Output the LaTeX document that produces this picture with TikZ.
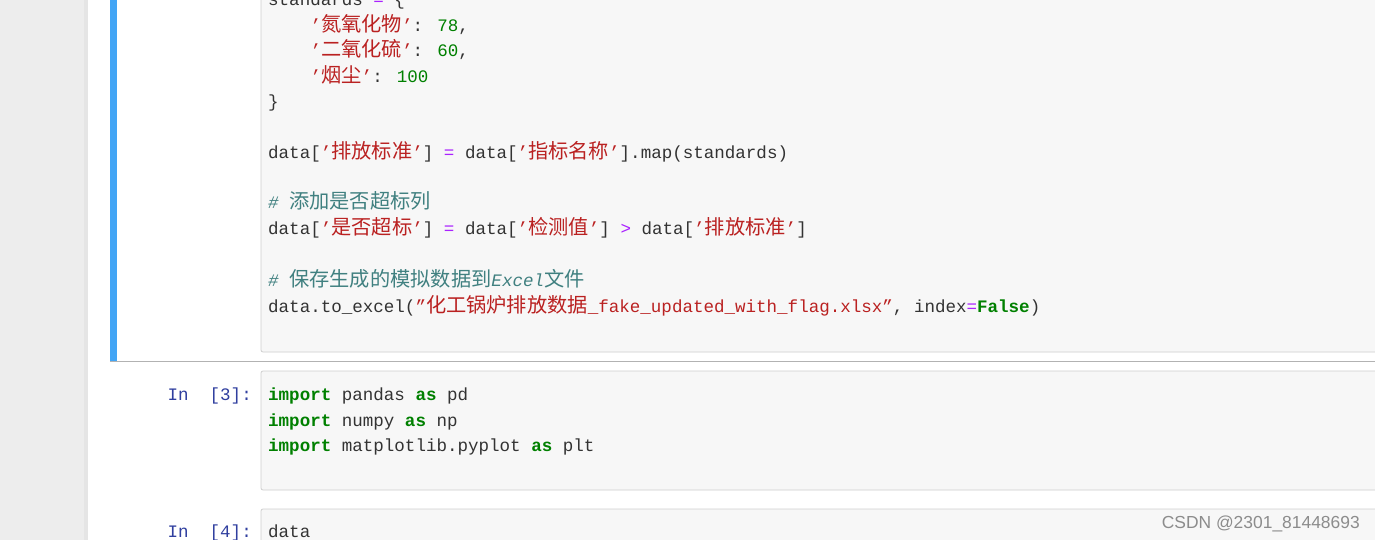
\documentclass[tikz,border=0pt]{standalone}
\usepackage{fontspec}
\setmainfont{Liberation Mono}
\setmonofont{Liberation Mono}
\newfontfamily\cjk{Noto Sans CJK SC}
\newfontfamily\sansf{Liberation Sans}
\definecolor{strc}{HTML}{BA2121}
\definecolor{numc}{HTML}{008000}
\definecolor{comc}{HTML}{408080}
\definecolor{opc}{HTML}{AA22FF}
\definecolor{promptc}{HTML}{303F9F}
\definecolor{codebg}{HTML}{F7F7F7}
\definecolor{codebd}{HTML}{CFCFCF}
\definecolor{txt}{HTML}{333333}
\definecolor{bar}{HTML}{42A5F5}
\newcommand{\zh}[1]{{\cjk\fontsize{20.3}{20}\selectfont #1}}
\newcommand{\Q}{\makebox[10.6bp][c]{'}}
\newcommand{\Str}[1]{\textcolor{strc}{#1}}
\newcommand{\Num}[1]{\textcolor{numc}{#1}}
\newcommand{\Kw}[1]{\textcolor{numc}{\bfseries #1}}
\newcommand{\Op}[1]{\textcolor{opc}{#1}}
\begin{document}
\begin{tikzpicture}[x=1bp,y=-1bp,
  code/.style={anchor=base west,inner sep=0,text=txt,font=\fontsize{17.6}{18}\selectfont},
  prompt/.style={anchor=base east,inner sep=0,text=promptc,font=\fontsize{17.6}{18}\selectfont},
  box/.style={fill=codebg,draw=codebd,rounded corners=2bp,line width=0.8bp}]
\useasboundingbox (0,0) rectangle (1375,540);
\fill[black!7] (0,0) rectangle (1375,540);
\fill[black!10] (84,0) rectangle (90,540);
\fill[white] (88,0) rectangle (1375,540);
% cell 1
\draw[black!30,line width=1bp] (110,361) -- (1375,361);
\fill[bar] (110,-5) rectangle (117,361);
\draw[box] (261,-10) rectangle (1385,352);
\node[code] (l0) at (268,6) {standards \Op{=} \{};
\node[code] (l1) at (268,32) {\hspace*{42.4bp}\Str{\Q\zh{氮氧化物}\Q}: \Num{78},};
\node[code] (l2) at (268,57) {\hspace*{42.4bp}\Str{\Q\zh{二氧化硫}\Q}: \Num{60},};
\node[code] (l3) at (268,83) {\hspace*{42.4bp}\Str{\Q\zh{烟尘}\Q}: \Num{100}};
\node[code] (l4) at (268,108) {\}};
\node[code] (l6) at (268,159) {data[\Str{\Q\zh{排放标准}\Q}] \Op{=} data[\Str{\Q\zh{指标名称}\Q}].map(standards)};
\node[code] (l8) at (268,209) {\textcolor{comc}{\itshape\# \zh{添加是否超标列}}};
\node[code] (l9) at (268,235) {data[\Str{\Q\zh{是否超标}\Q}] \Op{=} data[\Str{\Q\zh{检测值}\Q}] \Op{>} data[\Str{\Q\zh{排放标准}\Q}]};
\node[code] (l11) at (268,286) {\textcolor{comc}{\itshape\# \zh{保存生成的模拟数据到}Excel\zh{文件}}};
\node[code] (l12) at (268,312) {data.to\_excel(\Str{"\zh{化工锅炉排放数据}\_fake\_updated\_with\_flag.xlsx"}, index\Op{=}\Kw{False})};
% cell 2
\draw[box] (261,371) rectangle (1385,490);
\node[prompt] (p3) at (252,400) {In\ \ [3]:};
\node[code] (m1) at (268,400) {\Kw{import} pandas \Kw{as} pd};
\node[code] (m2) at (268,426) {\Kw{import} numpy \Kw{as} np};
\node[code] (m3) at (268,451) {\Kw{import} matplotlib.pyplot \Kw{as} plt};
% cell 3
\draw[box] (261,509) rectangle (1385,560);
\node[prompt] (p4) at (252,537) {In\ \ [4]:};
\node[code] (n1) at (268,537) {data};
% watermark
\node[anchor=base east,inner sep=0,text=black!45,font=\sansf\fontsize{17.5}{18}\selectfont] (wm) at (1360,528) {CSDN @2301\_81448693};
\end{tikzpicture}
\end{document}
